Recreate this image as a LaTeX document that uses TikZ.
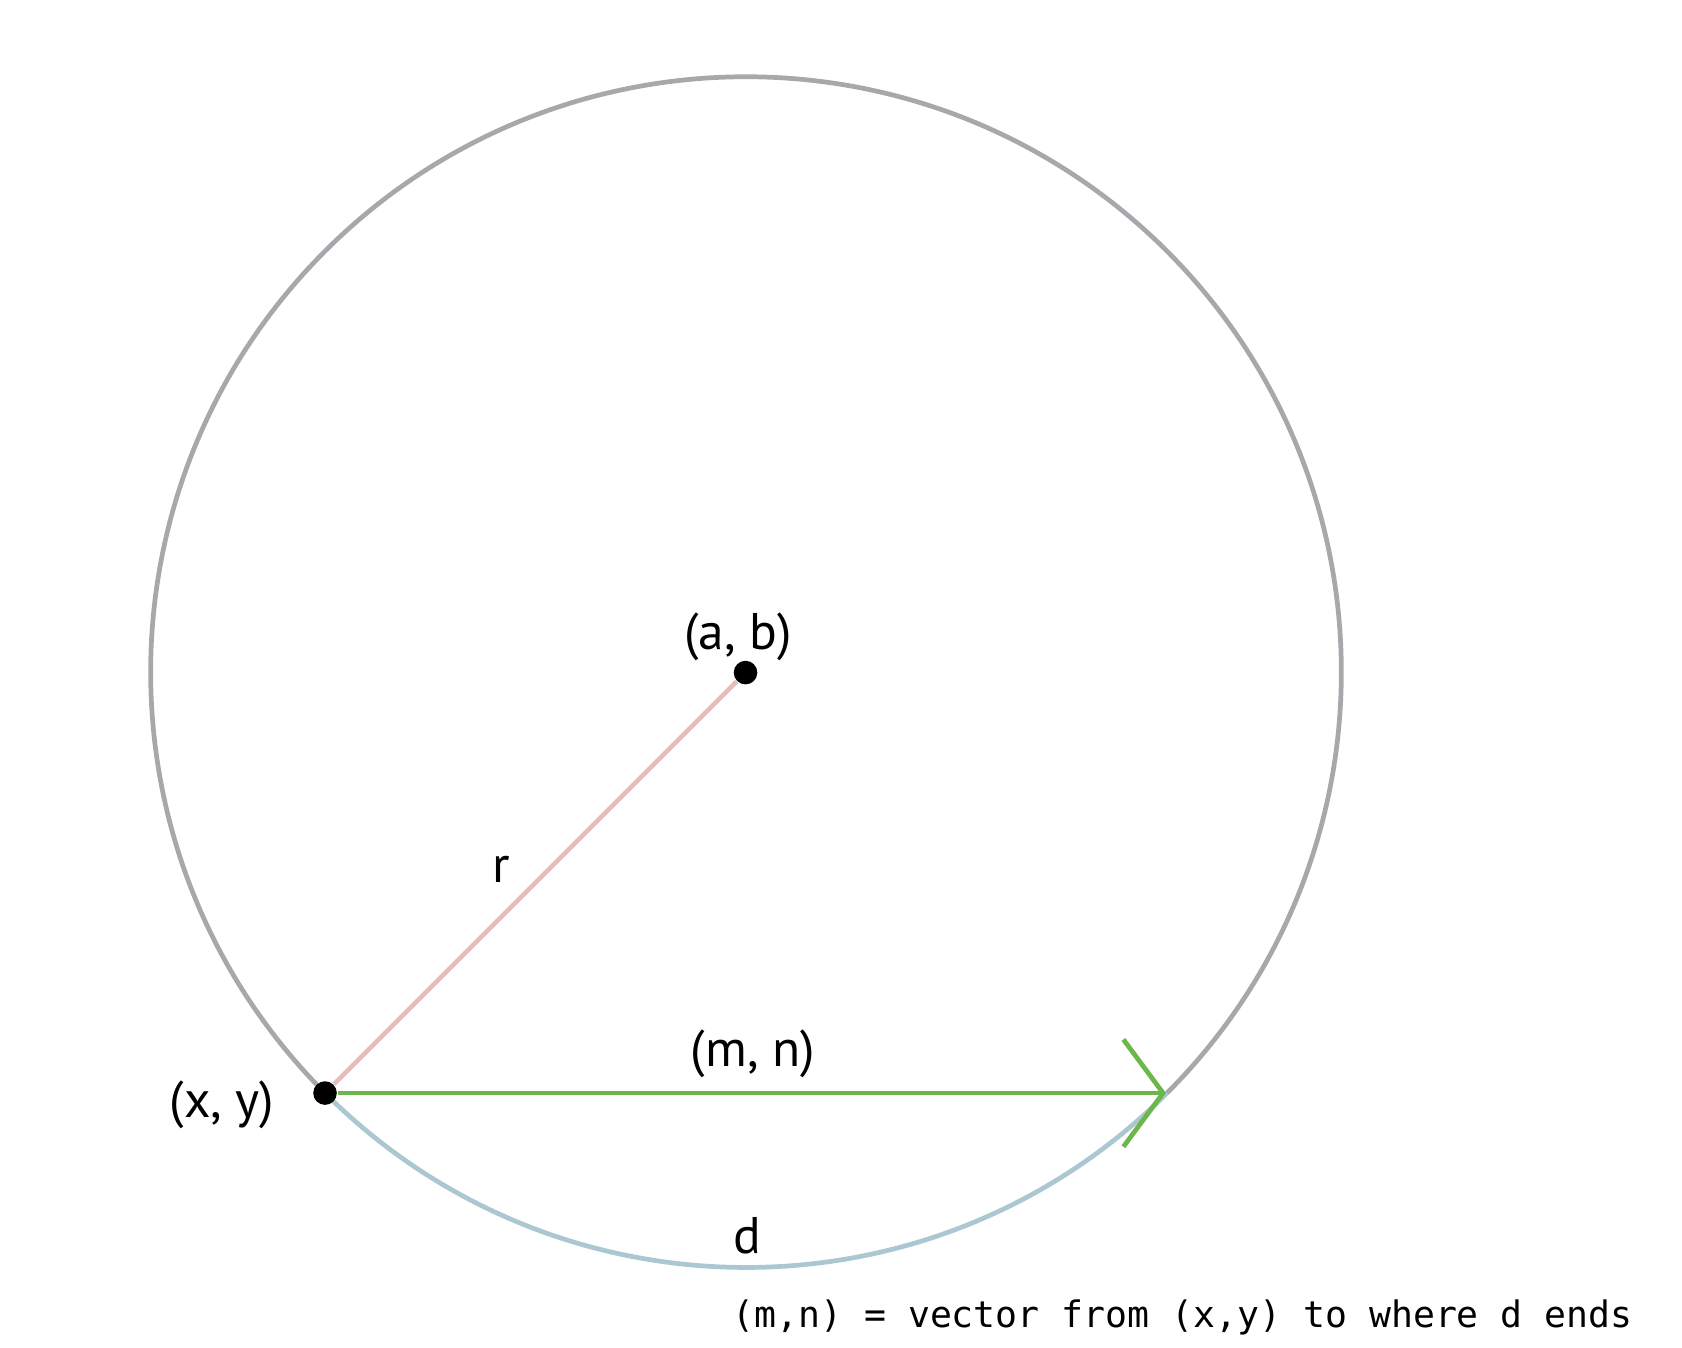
\documentclass[tikz,border=0pt]{standalone}
\usepackage{fontspec}
\setmainfont{PT Sans}
\setmonofont{DejaVu Sans Mono}
\usetikzlibrary{arrows.meta}
\definecolor{rimgray}{HTML}{A8A8AC}
\definecolor{arcblue}{HTML}{ABC8D2}
\definecolor{radpink}{HTML}{E2BEBE}
\definecolor{vecgreen}{HTML}{6CB64B}

\begin{document}
\begin{tikzpicture}[x=0.25pt,y=0.25pt,
    dot/.style={circle,fill=black,inner sep=0pt,minimum size=5.5pt},
    lbl/.style={inner sep=0pt,font=\fontsize{12}{14}\selectfont},
    note/.style={inner sep=0pt,font=\ttfamily\fontsize{8.5}{10}\selectfont},
    rim/.style={rimgray,line width=1.1pt},
    arcpart/.style={arcblue,line width=1.1pt},
    radline/.style={radpink,line width=1.1pt},
    vec/.style={vecgreen,line width=1.1pt,-{Straight Barb[length=9.25pt,width=25pt]}}]
    \useasboundingbox (0,-6) rectangle (1568,1250);
    \coordinate (start) at (303,231);
    \coordinate (mn) at (1087,231);
    \draw[rim] (start) arc[start angle=225,end angle=-45,radius=555];
    \draw[arcpart] (start) arc[start angle=225,end angle=315,radius=555];
    \node[dot] (ab) at (695,623) {};
    \node[dot] (xy) at (start) {};
    \draw[radline] (xy) -- (ab);
    \draw[vec] (xy) -- (mn);
    \node[lbl] (lab-ab) at (688,656) {(a, b)};
    \node[lbl] (lab-r) at (467,440) {r};
    \node[lbl] (lab-mn) at (702,268) {(m, n)};
    \node[lbl] (lab-xy) at (207,220) {(x, y)};
    \node[lbl] (lab-d) at (697,98) {d};
    \node[note,anchor=west] (lab-note) at (682,22) {(m,n) = vector from (x,y) to where d ends};
\end{tikzpicture}
\end{document}
